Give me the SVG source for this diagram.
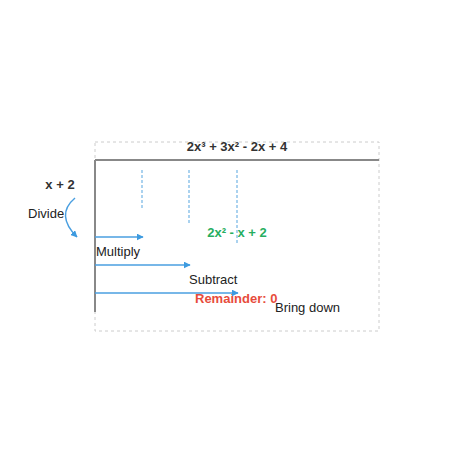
<svg xmlns="http://www.w3.org/2000/svg" width="474" height="474" viewBox="0 0 474 474">
<style>
text{font-family:"Liberation Sans",Arial,sans-serif;font-size:13px}
.b{font-weight:bold}
.arr{stroke:#4a9fe0;stroke-width:1.5;fill:none;marker-end:url(#ah)}
.dash{stroke:#8fc4ea;stroke-width:1.5;stroke-dasharray:3,2}
</style>
<defs>
<marker id="ah" viewBox="0 0 10 10" refX="9" refY="5" markerWidth="7" markerHeight="7" markerUnits="userSpaceOnUse" orient="auto">
<path d="M0,0L10,5L0,10z" fill="#3d9be0"/>
</marker>
</defs>
<rect x="95" y="142" width="284" height="189" fill="none" stroke="#ccc" stroke-dasharray="3,3"/>
<g id="bracket">
<line x1="95" y1="160" x2="379" y2="160" stroke="#888" stroke-width="2"/>
<line x1="95" y1="160" x2="95" y2="312" stroke="#888" stroke-width="2"/>
</g>
<g id="dividend"><text class="b" x="237" y="151" text-anchor="middle" fill="#333">2x³ + 3x² - 2x + 4</text></g>
<g id="divisor"><text class="b" x="60" y="189" text-anchor="middle" fill="#333">x + 2</text></g>
<g id="quotient"><text class="b" x="237" y="237" text-anchor="middle" fill="#27ae60">2x² - x + 2</text></g>
<g id="remainder"><text class="b" x="195" y="303" fill="#e74c3c">Remainder: 0</text></g>
<g id="labels">
<text x="28" y="218" fill="#222">Divide</text>
<text x="96" y="256" fill="#222">Multiply</text>
<text x="189" y="284" fill="#222">Subtract</text>
<text x="275" y="312" fill="#222">Bring down</text>
</g>
<g id="connectors">
<line class="dash" x1="142" y1="170" x2="142" y2="208"/>
<line class="dash" x1="189" y1="170" x2="189" y2="225"/>
<line class="dash" x1="237" y1="170" x2="237" y2="245"/>
<path class="arr" d="M75,198 Q55,215 77,237"/>
<line class="arr" x1="95" y1="237" x2="143" y2="237"/>
<line class="arr" x1="95" y1="265" x2="190" y2="265"/>
<line class="arr" x1="95" y1="293" x2="238" y2="293"/>
</g>
</svg>
